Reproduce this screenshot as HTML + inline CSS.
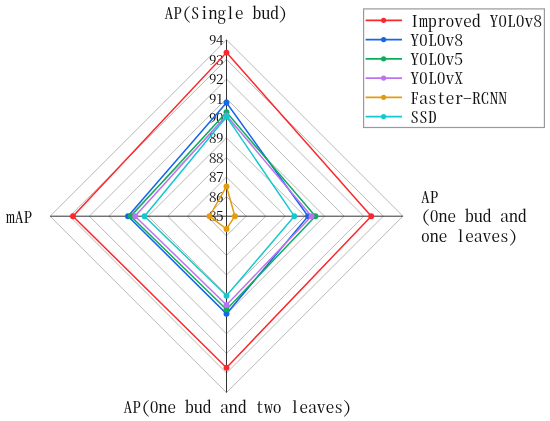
<!DOCTYPE html>
<html><head><meta charset="utf-8"><style>
html,body{margin:0;padding:0;background:#fff;}
svg{display:block;}
text{font-family:"Noto Serif CJK SC","Liberation Serif",serif;font-feature-settings:"hwid" 1;fill:#111;}
.big text{font-size:16.0px;letter-spacing:0.0px;font-weight:400;}
.tk text{font-size:12.6px;letter-spacing:-0.45px;text-anchor:end;font-weight:400;}
</style></head><body>
<svg width="550" height="421" viewBox="0 0 550 421">
<rect width="550" height="421" fill="#fff"/>
<g fill="none" stroke="#acacac" stroke-width="0.85"><polygon points="226.50,196.60 246.10,216.20 226.50,235.80 206.90,216.20"/><polygon points="226.50,177.00 265.70,216.20 226.50,255.40 187.30,216.20"/><polygon points="226.50,157.40 285.30,216.20 226.50,275.00 167.70,216.20"/><polygon points="226.50,137.80 304.90,216.20 226.50,294.60 148.10,216.20"/><polygon points="226.50,118.20 324.50,216.20 226.50,314.20 128.50,216.20"/><polygon points="226.50,98.60 344.10,216.20 226.50,333.80 108.90,216.20"/><polygon points="226.50,79.00 363.70,216.20 226.50,353.40 89.30,216.20"/><polygon points="226.50,59.40 383.30,216.20 226.50,373.00 69.70,216.20"/><polygon points="226.50,39.80 402.90,216.20 226.50,392.60 50.10,216.20"/></g>
<g stroke="#333" stroke-width="1.0"><line x1="226.5" y1="39.80" x2="226.5" y2="392.60"/><line x1="50.10" y1="216.2" x2="402.90" y2="216.2"/></g>
<g class="tk"><text transform="translate(223.00,221.40) scale(1.2,1)">85</text><text transform="translate(223.00,201.80) scale(1.2,1)">86</text><text transform="translate(223.00,182.20) scale(1.2,1)">87</text><text transform="translate(223.00,162.60) scale(1.2,1)">88</text><text transform="translate(223.00,143.00) scale(1.2,1)">89</text><text transform="translate(223.00,123.40) scale(1.2,1)">90</text><text transform="translate(223.00,103.80) scale(1.2,1)">91</text><text transform="translate(223.00,84.20) scale(1.2,1)">92</text><text transform="translate(223.00,64.60) scale(1.2,1)">93</text><text transform="translate(223.00,45.00) scale(1.2,1)">94</text></g>
<g stroke="#fa282c" fill="#fa282c"><polygon points="226.50,52.60 371.25,216.20 226.50,367.70 73.00,216.20" fill="none" stroke-width="1.5"/><g stroke="none"><circle cx="226.50" cy="52.60" r="2.95"/><circle cx="371.25" cy="216.20" r="2.95"/><circle cx="226.50" cy="367.70" r="2.95"/><circle cx="73.00" cy="216.20" r="2.95"/></g></g><g stroke="#1466ea" fill="#1466ea"><polygon points="226.50,102.80 308.10,216.20 226.50,313.80 128.00,216.20" fill="none" stroke-width="1.5"/><g stroke="none"><circle cx="226.50" cy="102.80" r="2.95"/><circle cx="308.10" cy="216.20" r="2.95"/><circle cx="226.50" cy="313.80" r="2.95"/><circle cx="128.00" cy="216.20" r="2.95"/></g></g><g stroke="#0cae5c" fill="#0cae5c"><polygon points="226.50,112.20 315.40,216.20 226.50,309.50 130.80,216.20" fill="none" stroke-width="1.5"/><g stroke="none"><circle cx="226.50" cy="112.20" r="2.95"/><circle cx="315.40" cy="216.20" r="2.95"/><circle cx="226.50" cy="309.50" r="2.95"/><circle cx="130.80" cy="216.20" r="2.95"/></g></g><g stroke="#bd72f2" fill="#bd72f2"><polygon points="226.50,115.50 311.50,216.20 226.50,305.00 135.10,216.20" fill="none" stroke-width="1.5"/><g stroke="none"><circle cx="226.50" cy="115.50" r="2.95"/><circle cx="311.50" cy="216.20" r="2.95"/><circle cx="226.50" cy="305.00" r="2.95"/><circle cx="135.10" cy="216.20" r="2.95"/></g></g><g stroke="#e59b0c" fill="#e59b0c"><polygon points="226.50,186.40 234.90,216.20 226.50,229.00 209.50,216.20" fill="none" stroke-width="1.5"/><g stroke="none"><circle cx="226.50" cy="186.40" r="2.95"/><circle cx="234.90" cy="216.20" r="2.95"/><circle cx="226.50" cy="229.00" r="2.95"/><circle cx="209.50" cy="216.20" r="2.95"/></g></g><g stroke="#14c9ce" fill="#14c9ce"><polygon points="226.50,116.70 294.30,216.20 226.50,295.70 144.50,216.20" fill="none" stroke-width="1.5"/><g stroke="none"><circle cx="226.50" cy="116.70" r="2.95"/><circle cx="294.30" cy="216.20" r="2.95"/><circle cx="226.50" cy="295.70" r="2.95"/><circle cx="144.50" cy="216.20" r="2.95"/></g></g>
<g class="big">
<text transform="translate(164.50,18.70) scale(1.1,1)">AP(Single bud)</text>
<text transform="translate(5.90,222.70) scale(1.1,1)">mAP</text>
<text transform="translate(421.00,203.20) scale(1.1,1)">AP</text>
<text transform="translate(421.00,222.40) scale(1.1,1)">(One bud and</text>
<text transform="translate(421.00,241.70) scale(1.1,1)">one leaves)</text>
<text transform="translate(123.40,412.80) scale(1.1,1)">AP(One bud and two leaves)</text>
</g>
<rect x="363.6" y="8.9" width="180.8" height="118.6" fill="#fff" stroke="#999" stroke-width="1.2"/>
<g class="big"><line x1="365.6" y1="20.30" x2="402" y2="20.30" stroke="#fa282c" stroke-width="1.8"/><circle cx="383.6" cy="20.30" r="2.6" fill="#fa282c"/><text transform="translate(410.3,26.50) scale(1.1,1)">Improved YOLOv8</text><line x1="365.6" y1="39.55" x2="402" y2="39.55" stroke="#1466ea" stroke-width="1.8"/><circle cx="383.6" cy="39.55" r="2.6" fill="#1466ea"/><text transform="translate(410.3,45.75) scale(1.1,1)">YOLOv8</text><line x1="365.6" y1="58.80" x2="402" y2="58.80" stroke="#0cae5c" stroke-width="1.8"/><circle cx="383.6" cy="58.80" r="2.6" fill="#0cae5c"/><text transform="translate(410.3,65.00) scale(1.1,1)">YOLOv5</text><line x1="365.6" y1="78.05" x2="402" y2="78.05" stroke="#bd72f2" stroke-width="1.8"/><circle cx="383.6" cy="78.05" r="2.6" fill="#bd72f2"/><text transform="translate(410.3,84.25) scale(1.1,1)">YOLOvX</text><line x1="365.6" y1="97.30" x2="402" y2="97.30" stroke="#e59b0c" stroke-width="1.8"/><circle cx="383.6" cy="97.30" r="2.6" fill="#e59b0c"/><text transform="translate(410.3,103.50) scale(1.1,1)">Faster-RCNN</text><line x1="365.6" y1="116.55" x2="402" y2="116.55" stroke="#14c9ce" stroke-width="1.8"/><circle cx="383.6" cy="116.55" r="2.6" fill="#14c9ce"/><text transform="translate(410.3,122.75) scale(1.1,1)">SSD</text></g>
</svg>
</body></html>
